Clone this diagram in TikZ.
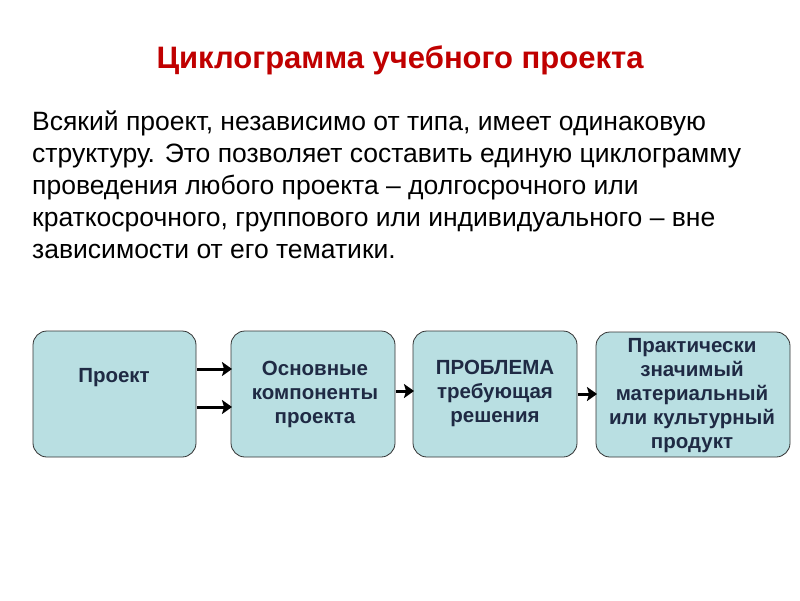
\documentclass[tikz,border=0pt]{standalone}
\usepackage{fontspec}
\setmainfont{Liberation Sans}
\usetikzlibrary{arrows.meta}
\definecolor{boxfill}{HTML}{B9DFE2}
\definecolor{boxtext}{HTML}{1F2A44}
\definecolor{titlered}{HTML}{C00000}
\begin{document}
\begin{tikzpicture}[x=1pt,y=-1pt,
  blk/.style={draw=black!80, line width=0.8pt, fill=boxfill, rounded corners=14pt},
  btxt/.style={text=boxtext, font=\fontsize{20.5}{24}\selectfont\bfseries, align=center},
  arr/.style={-{Stealth[length=10pt,width=14pt,inset=2pt]}, line width=3pt}]
\useasboundingbox (0,0) rectangle (800,600);
\fill[white] (0,0) rectangle (800,600);
\node[text=titlered, font=\fontsize{31}{34}\selectfont\bfseries] (title) at (400,60) {Циклограмма учебного проекта};
\node[anchor=north west, align=left, inner sep=0pt, font=\fontsize{26.5}{32}\selectfont] (para) at (32,111)
 {Всякий проект, независимо от типа, имеет одинаковую\\
  структуру. Это позволяет составить единую циклограмму\\
  проведения любого проекта – долгосрочного или\\
  краткосрочного, группового или индивидуального – вне\\
  зависимости от его тематики.};
\draw[blk] (33,331) rectangle (196,457);
\node[btxt] (t1) at (114,378) {Проект};
\draw[blk] (231,331) rectangle (395,457);
\node[btxt] (t2) at (315,394) {Основные\\компоненты\\проекта};
\draw[blk] (413,331) rectangle (577,457);
\node[btxt] (t3) at (495,393) {ПРОБЛЕМА\\требующая\\решения};
\draw[blk] (596,332) rectangle (790,457);
\node[btxt] (t4) at (692,396) {Практически\\значимый\\материальный\\или культурный\\продукт};
\coordinate (a1s) at (197,369); \coordinate (a1e) at (232,369);
\coordinate (a2s) at (197,407); \coordinate (a2e) at (232,407);
\coordinate (a3s) at (396,391); \coordinate (a3e) at (414,391);
\coordinate (a4s) at (578,394); \coordinate (a4e) at (597,394);
\draw[arr] (a1s) -- (a1e);
\draw[arr] (a2s) -- (a2e);
\draw[arr] (a3s) -- (a3e);
\draw[arr] (a4s) -- (a4e);
\end{tikzpicture}
\end{document}
